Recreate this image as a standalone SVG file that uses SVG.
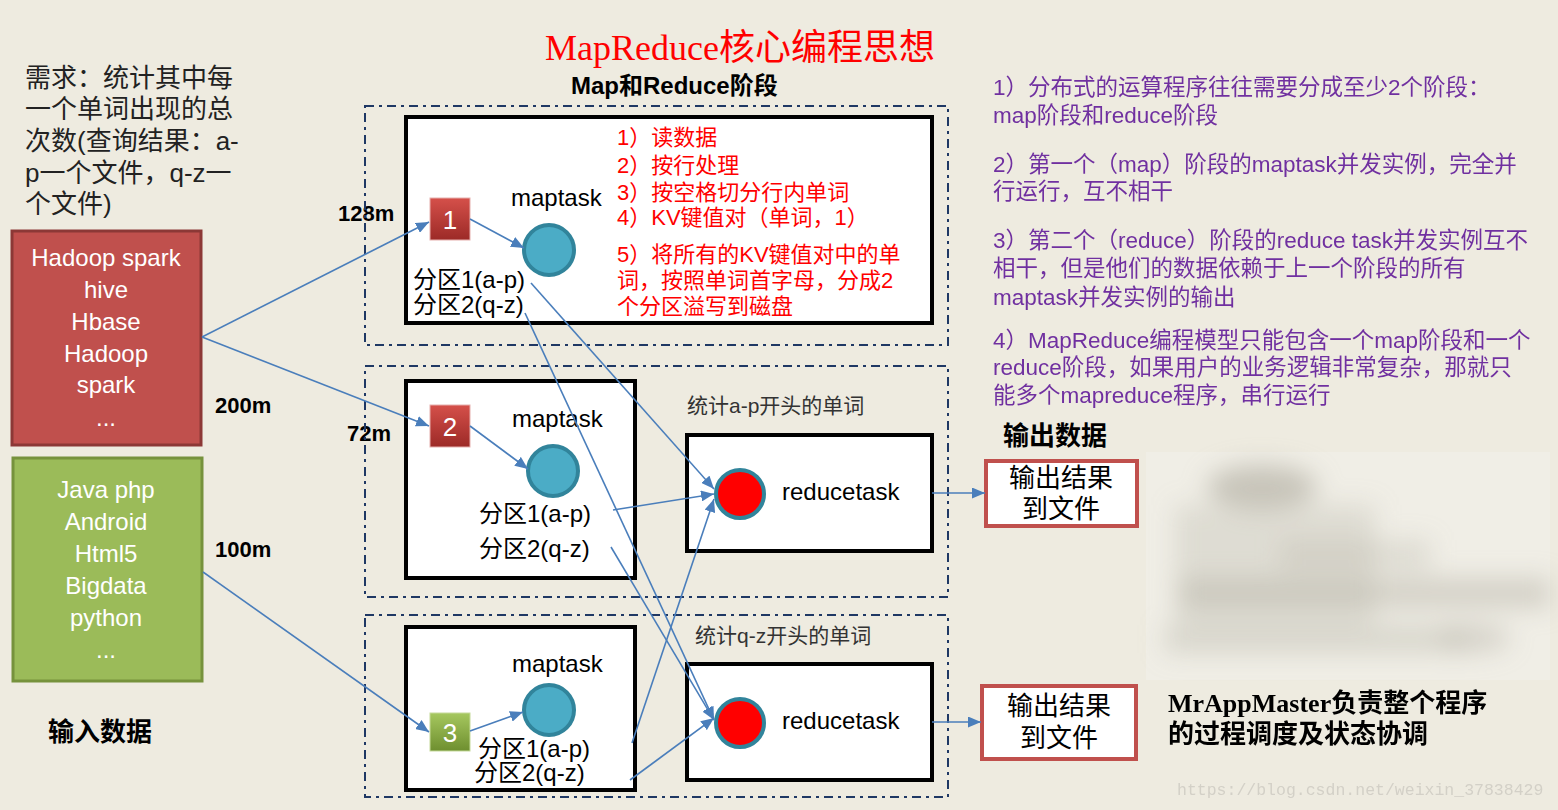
<svg xmlns="http://www.w3.org/2000/svg" width="1558" height="810" viewBox="0 0 1558 810">
<style>
.sans{font-family:"Liberation Sans","Noto Sans CJK SC",sans-serif}
.serif{font-family:"Liberation Serif","Noto Sans CJK SC",serif}
.dash{fill:none;stroke:#1F3864;stroke-width:2;stroke-dasharray:9 5 3 5}
.box{fill:#fff;stroke:#000;stroke-width:4}
.outbox{fill:#fff;stroke:#C0504D;stroke-width:4}
.mapc{fill:#4BACC6;stroke:#31849B;stroke-width:4}
.redc{fill:#FF0000;stroke:#31849B;stroke-width:4}
.conn{fill:none;stroke:#4A7EBB;stroke-width:1.6;marker-end:url(#arr)}
.wt{fill:#fff;font-size:24px;text-anchor:middle}
.lbl{font-size:22px;font-weight:bold;fill:#000}
.red{fill:#FF0000;font-size:22px}
.pur{fill:#7030A0;font-size:22.5px}
.blk{fill:#000;font-size:24px}
.sq{fill:#fff;font-size:26px;text-anchor:middle}
</style>
<defs>
<marker id="arr" markerUnits="userSpaceOnUse" markerWidth="13" markerHeight="11" refX="13" refY="5.5" orient="auto">
<path d="M0,0 L13,5.5 L0,11 z" fill="#4A7EBB"/>
</marker>
<linearGradient id="gRed" x1="0" y1="0" x2="0" y2="1">
<stop offset="0" stop-color="#D5504A"/>
<stop offset="1" stop-color="#9C2A27"/>
</linearGradient>
<linearGradient id="gGreen" x1="0" y1="0" x2="0" y2="1">
<stop offset="0" stop-color="#A6C85F"/>
<stop offset="1" stop-color="#6E8F2F"/>
</linearGradient>
<filter id="blur" x="-20%" y="-40%" width="140%" height="180%">
<feGaussianBlur stdDeviation="12"/>
</filter>
</defs>
<rect width="1558" height="810" fill="#EEEBE0"/>

<!-- title -->
<text class="serif" x="740" y="60" font-size="36" fill="#FF0000" text-anchor="middle">MapReduce核心编程思想</text>
<text class="sans" x="571" y="94" font-size="24" font-weight="bold" fill="#000">Map和Reduce阶段</text>

<!-- requirement text -->
<g id="requirement" class="sans" font-size="26" fill="#222">
<text x="25" y="87">需求：统计其中每</text>
<text x="25" y="118">一个单词出现的总</text>
<text x="25" y="150">次数(查询结果：a-</text>
<text x="25" y="182">p一个文件，q-z一</text>
<text x="25" y="213">个文件)</text>
</g>

<!-- input red -->
<g id="input-red">
<rect x="12" y="231" width="189" height="214" fill="#C0504D" stroke="#8C3836" stroke-width="3"/>
<g class="sans wt">
<text x="106" y="266">Hadoop spark</text>
<text x="106" y="298">hive</text>
<text x="106" y="330">Hbase</text>
<text x="106" y="362">Hadoop</text>
<text x="106" y="393">spark</text>
<text x="106" y="426">...</text>
</g>
</g>
<!-- input green -->
<g id="input-green">
<rect x="13" y="458" width="189" height="223" fill="#9BBB59" stroke="#76923C" stroke-width="3"/>
<g class="sans wt">
<text x="106" y="498">Java php</text>
<text x="106" y="530">Android</text>
<text x="106" y="562">Html5</text>
<text x="106" y="594">Bigdata</text>
<text x="106" y="626">python</text>
<text x="106" y="658">...</text>
</g>
</g>
<text class="serif" x="48" y="741" font-size="26" font-weight="bold" fill="#000">输入数据</text>

<!-- size labels -->
<g id="sizes" class="sans lbl">
<text x="338" y="221">128m</text>
<text x="215" y="413">200m</text>
<text x="347" y="441">72m</text>
<text x="215" y="557">100m</text>
</g>

<!-- dashed groups -->
<rect class="dash" x="365" y="106" width="583" height="239"/>
<rect class="dash" x="365" y="366" width="583" height="231"/>
<rect class="dash" x="365" y="615" width="583" height="182"/>

<!-- map 1 -->
<g id="map1">
<rect class="box" x="406" y="117" width="526" height="206"/>
<text class="sans blk" x="511" y="206">maptask</text>
<circle class="mapc" cx="549" cy="250" r="25"/>
<text class="sans blk" x="413" y="288">分区1(a-p)</text>
<text class="sans blk" x="413" y="313">分区2(q-z)</text>
<g class="sans red">
<text x="617" y="145">1）读数据</text>
<text x="617" y="173">2）按行处理</text>
<text x="617" y="200">3）按空格切分行内单词</text>
<text x="617" y="225">4）KV键值对（单词，1）</text>
<text x="617" y="262">5）将所有的KV键值对中的单</text>
<text x="617" y="288">词，按照单词首字母，分成2</text>
<text x="617" y="314">个分区溢写到磁盘</text>
</g>
</g>
<g id="split1">
<rect x="430" y="198" width="40" height="42" fill="url(#gRed)" stroke="#E6B0AE" stroke-width="1"/>
<text class="sans sq" x="450" y="229">1</text>
</g>

<!-- map 2 -->
<g id="map2">
<rect class="box" x="406" y="381" width="229" height="197"/>
<text class="sans blk" x="512" y="427">maptask</text>
<circle class="mapc" cx="553" cy="471" r="25"/>
<text class="sans blk" x="479" y="522">分区1(a-p)</text>
<text class="sans blk" x="479" y="557">分区2(q-z)</text>
</g>
<g id="split2">
<rect x="430" y="405" width="40" height="42" fill="url(#gRed)" stroke="#E6B0AE" stroke-width="1"/>
<text class="sans sq" x="450" y="436">2</text>
</g>

<!-- map 3 -->
<g id="map3">
<rect class="box" x="406" y="627" width="229" height="163"/>
<text class="sans blk" x="512" y="672">maptask</text>
<circle class="mapc" cx="549" cy="710" r="25"/>
<text class="sans blk" x="478" y="757">分区1(a-p)</text>
<text class="sans blk" x="474" y="781">分区2(q-z)</text>
</g>
<g id="split3">
<rect x="430" y="713" width="40" height="38" fill="url(#gGreen)" stroke="#C5DA9A" stroke-width="1"/>
<text class="sans sq" x="450" y="742">3</text>
</g>

<!-- reduce 1 -->
<g id="reduce1">
<text class="sans" x="687" y="413" font-size="21" fill="#333">统计a-p开头的单词</text>
<rect class="box" x="687" y="435" width="245" height="116"/>
<circle class="redc" cx="740" cy="494" r="24"/>
<text class="sans blk" x="782" y="500">reducetask</text>
</g>
<!-- reduce 2 -->
<g id="reduce2">
<text class="sans" x="695" y="643" font-size="21" fill="#333">统计q-z开头的单词</text>
<rect class="box" x="687" y="664" width="245" height="116"/>
<circle class="redc" cx="740" cy="723" r="24"/>
<text class="sans blk" x="782" y="729">reducetask</text>
</g>

<!-- outputs -->
<text class="serif" x="1003" y="445" font-size="26" font-weight="bold" fill="#000">输出数据</text>
<g id="out1">
<rect class="outbox" x="986" y="461" width="151" height="65"/>
<text class="serif" x="1061" y="487" font-size="26" fill="#000" text-anchor="middle">输出结果</text>
<text class="serif" x="1061" y="518" font-size="26" fill="#000" text-anchor="middle">到文件</text>
</g>
<g id="out2">
<rect class="outbox" x="982" y="686" width="154" height="73"/>
<text class="serif" x="1059" y="715" font-size="26" fill="#000" text-anchor="middle">输出结果</text>
<text class="serif" x="1059" y="747" font-size="26" fill="#000" text-anchor="middle">到文件</text>
</g>

<!-- blurred region -->
<rect x="1146" y="452" width="404" height="228" fill="#F0EEE6"/>
<g filter="url(#blur)" fill="#BDBAAF">
<ellipse cx="1262" cy="487" rx="55" ry="22" opacity="0.8"/>
<rect x="1175" y="505" width="200" height="120" opacity="0.35"/>
<rect x="1180" y="578" width="370" height="30" opacity="0.55"/>
<rect x="1165" y="625" width="300" height="28" opacity="0.45"/>
<ellipse cx="1475" cy="638" rx="35" ry="14" opacity="0.5"/>
<rect x="1280" y="540" width="150" height="30" opacity="0.35"/>
</g>

<text class="serif" x="1168" y="712" font-size="26" font-weight="bold" fill="#000">MrAppMaster负责整个程序</text>
<text class="serif" x="1168" y="743" font-size="26" font-weight="bold" fill="#000">的过程调度及状态协调</text>

<!-- notes -->
<g id="notes" class="sans pur">
<text x="993" y="95">1）分布式的运算程序往往需要分成至少2个阶段：</text>
<text x="993" y="123">map阶段和reduce阶段</text>
<text x="993" y="172">2）第一个（map）阶段的maptask并发实例，完全并</text>
<text x="993" y="199">行运行，互不相干</text>
<text x="993" y="248">3）第二个（reduce）阶段的reduce task并发实例互不</text>
<text x="993" y="276">相干，但是他们的数据依赖于上一个阶段的所有</text>
<text x="993" y="305">maptask并发实例的输出</text>
<text x="993" y="348">4）MapReduce编程模型只能包含一个map阶段和一个</text>
<text x="993" y="375">reduce阶段，如果用户的业务逻辑非常复杂，那就只</text>
<text x="993" y="403">能多个mapreduce程序，串行运行</text>
</g>

<!-- connectors -->
<g id="connectors">
<path class="conn" d="M202,337 L429,222"/>
<path class="conn" d="M202,337 L429,426"/>
<path class="conn" d="M203,572 L429,732"/>
<path class="conn" d="M470,219 L524,248"/>
<path class="conn" d="M470,426 L528,469"/>
<path class="conn" d="M470,731 L523,712"/>
<path class="conn" d="M531,283 L714,489"/>
<path class="conn" d="M525,313 L714,720"/>
<path class="conn" d="M613,510 L714,494"/>
<path class="conn" d="M611,547 L714,720"/>
<path class="conn" d="M632,743 L714,499"/>
<path class="conn" d="M630,780 L714,718"/>
<path class="conn" d="M932,493 L985,493"/>
<path class="conn" d="M932,722 L981,722"/>
</g>

<text x="1177" y="795" font-family="'Liberation Mono',monospace" font-size="16.5" fill="#D3D0C7">https://blog.csdn.net/weixin_37838429</text>
</svg>
